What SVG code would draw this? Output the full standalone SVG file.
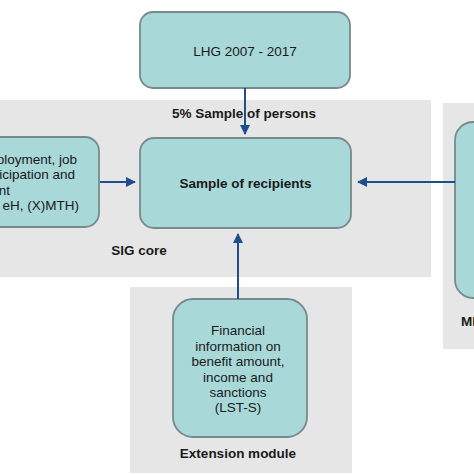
<svg xmlns="http://www.w3.org/2000/svg" width="474" height="474" viewBox="0 0 474 474">
<defs>
<style>
.panel{fill:#e6e6e6}
.box{fill:#a8d8d8;stroke:#778b8b;stroke-width:1.8}
.t{font-family:"Liberation Sans",Arial,sans-serif;font-size:13.5px;fill:#1a1a1a}
.b{font-weight:bold}
.c{text-anchor:middle}
.e{text-anchor:end}
.conn{stroke:#1f4e8c;stroke-width:2;fill:none}
</style>
<marker id="ah" viewBox="0 0 10 10" refX="9" refY="5" markerWidth="10" markerHeight="10" markerUnits="userSpaceOnUse" orient="auto">
<path d="M0,0 L10,5 L0,10 z" fill="#1f4e8c"/>
</marker>
</defs>
<g id="panels">
<rect id="sig-core-panel" class="panel" x="0" y="100" width="431" height="177"/>
<rect id="mi-panel" class="panel" x="443" y="103" width="40" height="246"/>
<rect id="extension-panel" class="panel" x="130" y="287" width="222" height="186"/>
</g>
<g id="lhg">
<rect class="box" x="140" y="12" width="210" height="76" rx="13"/>
<text class="t c" x="245" y="56">LHG 2007 - 2017</text>
</g>
<g id="sample-recipients">
<rect class="box" x="140" y="138" width="211" height="90" rx="14"/>
<text class="t b c" x="245.5" y="188">Sample of recipients</text>
</g>
<g id="employment">
<rect class="box" x="-120" y="137" width="219" height="90" rx="14"/>
<text class="t e" x="77" y="164">ployment, job</text>
<text class="t e" x="75" y="179">icipation and</text>
<text class="t e" x="10" y="195">nt</text>
<text class="t e" x="79" y="210">eH, (X)MTH)</text>
</g>
<g id="mi">
<rect class="box" x="455" y="122" width="60" height="176" rx="18"/>
<text class="t b" x="461" y="326">MI</text>
</g>
<g id="financial">
<rect class="box" x="173" y="299" width="134" height="138" rx="20"/>
<text class="t c" x="238" y="335">Financial</text>
<text class="t c" x="238" y="350.5">information on</text>
<text class="t c" x="238" y="366">benefit amount,</text>
<text class="t c" x="238" y="381.5">income and</text>
<text class="t c" x="238" y="397">sanctions</text>
<text class="t c" x="238" y="412">(LST-S)</text>
</g>
<g id="labels">
<text class="t b c" x="244" y="118">5% Sample of persons</text>
<text class="t b c" x="139" y="255">SIG core</text>
<text class="t b c" x="238" y="458">Extension module</text>
</g>
<g id="connectors">
<line class="conn" x1="245" y1="88" x2="245" y2="134" marker-end="url(#ah)"/>
<line class="conn" x1="100" y1="182" x2="135" y2="182" marker-end="url(#ah)"/>
<line class="conn" x1="455" y1="182" x2="358" y2="182" marker-end="url(#ah)"/>
<line class="conn" x1="238" y1="299" x2="238" y2="234" marker-end="url(#ah)"/>
</g>
</svg>
